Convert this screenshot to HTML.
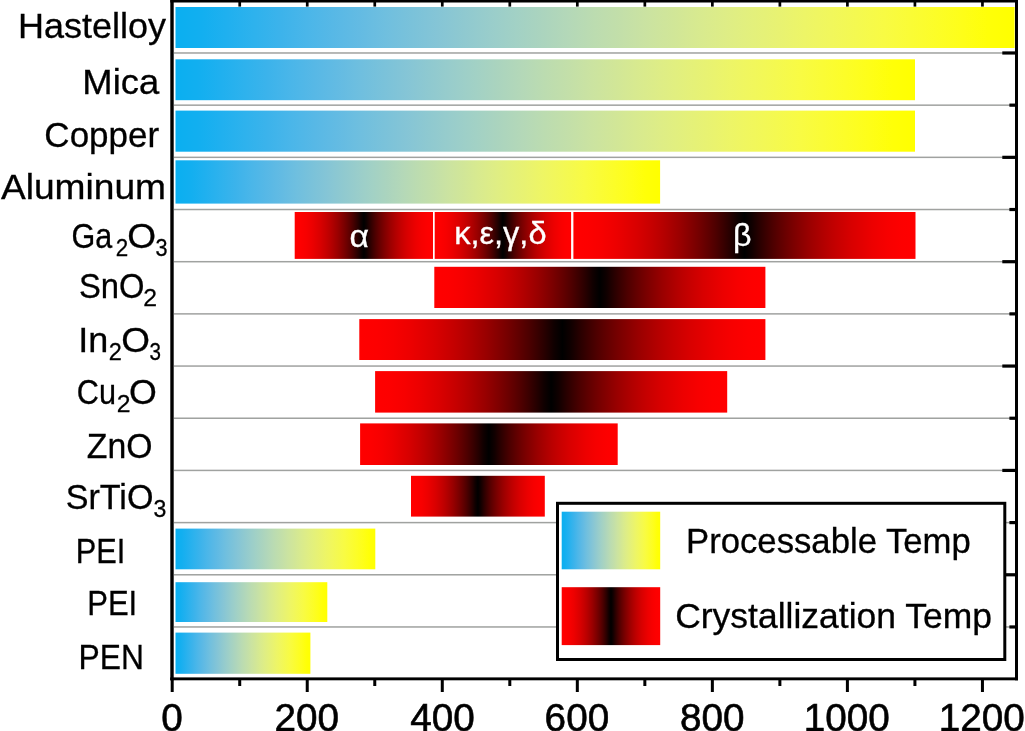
<!DOCTYPE html>
<html lang="en"><head><meta charset="utf-8"><title>Processable and Crystallization Temperature Chart</title>
<style>html,body{margin:0;padding:0;background:#fff}body{width:1025px;height:731px;overflow:hidden}svg{display:block}text{font-family:"Liberation Sans", "DejaVu Sans", sans-serif;white-space:pre}</style></head><body>
<svg width="1025" height="731" viewBox="0 0 1025 731">
<defs>
<linearGradient id="by" x1="0" y1="0" x2="1" y2="0"><stop offset="0.0000" stop-color="#0aaff0"/><stop offset="0.0312" stop-color="#12aff0"/><stop offset="0.0625" stop-color="#20b0ef"/><stop offset="0.0938" stop-color="#2eb2ed"/><stop offset="0.1250" stop-color="#3cb3eb"/><stop offset="0.1562" stop-color="#4ab6e9"/><stop offset="0.1875" stop-color="#57b8e6"/><stop offset="0.2188" stop-color="#63bbe3"/><stop offset="0.2500" stop-color="#6fbfdf"/><stop offset="0.2812" stop-color="#7ac2da"/><stop offset="0.3125" stop-color="#85c5d6"/><stop offset="0.3438" stop-color="#8fc9d0"/><stop offset="0.3750" stop-color="#99cdcb"/><stop offset="0.4062" stop-color="#a2d1c5"/><stop offset="0.4375" stop-color="#abd4be"/><stop offset="0.4688" stop-color="#b4d8b8"/><stop offset="0.5000" stop-color="#bcdcb0"/><stop offset="0.5312" stop-color="#c3dfa9"/><stop offset="0.5625" stop-color="#cbe3a1"/><stop offset="0.5938" stop-color="#d1e698"/><stop offset="0.6250" stop-color="#d8ea8f"/><stop offset="0.6562" stop-color="#deed86"/><stop offset="0.6875" stop-color="#e3f07c"/><stop offset="0.7188" stop-color="#e8f272"/><stop offset="0.7500" stop-color="#edf567"/><stop offset="0.7812" stop-color="#f1f75c"/><stop offset="0.8125" stop-color="#f4f950"/><stop offset="0.8438" stop-color="#f8fb44"/><stop offset="0.8750" stop-color="#fafc36"/><stop offset="0.9062" stop-color="#fcfd28"/><stop offset="0.9375" stop-color="#fefe19"/><stop offset="0.9688" stop-color="#ffff08"/><stop offset="1.0000" stop-color="#ffff00"/></linearGradient>
<linearGradient id="rk" x1="0" y1="0" x2="1" y2="0"><stop offset="0.0000" stop-color="#ff0000"/><stop offset="0.0208" stop-color="#fe0000"/><stop offset="0.0417" stop-color="#fd0000"/><stop offset="0.0625" stop-color="#fa0000"/><stop offset="0.0833" stop-color="#f70000"/><stop offset="0.1042" stop-color="#f20000"/><stop offset="0.1250" stop-color="#ed0000"/><stop offset="0.1458" stop-color="#e60000"/><stop offset="0.1667" stop-color="#df0000"/><stop offset="0.1875" stop-color="#d80000"/><stop offset="0.2083" stop-color="#cf0000"/><stop offset="0.2292" stop-color="#c60000"/><stop offset="0.2500" stop-color="#bc0000"/><stop offset="0.2708" stop-color="#b10000"/><stop offset="0.2917" stop-color="#a50000"/><stop offset="0.3125" stop-color="#990000"/><stop offset="0.3333" stop-color="#8b0000"/><stop offset="0.3542" stop-color="#7d0000"/><stop offset="0.3750" stop-color="#6e0000"/><stop offset="0.3958" stop-color="#5e0000"/><stop offset="0.4167" stop-color="#4d0000"/><stop offset="0.4375" stop-color="#3a0000"/><stop offset="0.4583" stop-color="#260000"/><stop offset="0.4792" stop-color="#100000"/><stop offset="0.5000" stop-color="#000000"/><stop offset="0.5208" stop-color="#100000"/><stop offset="0.5417" stop-color="#260000"/><stop offset="0.5625" stop-color="#3a0000"/><stop offset="0.5833" stop-color="#4d0000"/><stop offset="0.6042" stop-color="#5e0000"/><stop offset="0.6250" stop-color="#6e0000"/><stop offset="0.6458" stop-color="#7d0000"/><stop offset="0.6667" stop-color="#8b0000"/><stop offset="0.6875" stop-color="#990000"/><stop offset="0.7083" stop-color="#a50000"/><stop offset="0.7292" stop-color="#b10000"/><stop offset="0.7500" stop-color="#bc0000"/><stop offset="0.7708" stop-color="#c60000"/><stop offset="0.7917" stop-color="#cf0000"/><stop offset="0.8125" stop-color="#d80000"/><stop offset="0.8333" stop-color="#df0000"/><stop offset="0.8542" stop-color="#e60000"/><stop offset="0.8750" stop-color="#ed0000"/><stop offset="0.8958" stop-color="#f20000"/><stop offset="0.9167" stop-color="#f70000"/><stop offset="0.9375" stop-color="#fa0000"/><stop offset="0.9583" stop-color="#fd0000"/><stop offset="0.9792" stop-color="#fe0000"/><stop offset="1.0000" stop-color="#ff0000"/></linearGradient>
</defs>
<rect width="1025" height="731" fill="#fff"/>
<rect x="174" y="52.23" width="841" height="1.5" fill="#a0a2a0"/>
<rect x="174" y="104.41" width="841" height="1.5" fill="#a0a2a0"/>
<rect x="174" y="156.59" width="841" height="1.5" fill="#a0a2a0"/>
<rect x="174" y="208.77" width="841" height="1.5" fill="#a0a2a0"/>
<rect x="174" y="260.95" width="841" height="1.5" fill="#a0a2a0"/>
<rect x="174" y="313.13" width="841" height="1.5" fill="#a0a2a0"/>
<rect x="174" y="365.31" width="841" height="1.5" fill="#a0a2a0"/>
<rect x="174" y="417.49" width="841" height="1.5" fill="#a0a2a0"/>
<rect x="174" y="469.67" width="841" height="1.5" fill="#a0a2a0"/>
<rect x="174" y="521.85" width="841" height="1.5" fill="#a0a2a0"/>
<rect x="174" y="574.03" width="841" height="1.5" fill="#a0a2a0"/>
<rect x="174" y="626.21" width="841" height="1.5" fill="#a0a2a0"/>
<rect x="175.50" y="7.00" width="839.10" height="41.00" fill="url(#by)"/>
<rect x="175.50" y="59.30" width="739.50" height="40.90" fill="url(#by)"/>
<rect x="175.50" y="110.60" width="739.50" height="41.10" fill="url(#by)"/>
<rect x="175.50" y="160.30" width="484.60" height="43.30" fill="url(#by)"/>
<rect x="294.70" y="212.00" width="138.30" height="46.90" fill="url(#rk)"/>
<rect x="434.70" y="212.00" width="136.40" height="46.90" fill="url(#rk)"/>
<rect x="573.40" y="212.00" width="342.10" height="46.90" fill="url(#rk)"/>
<rect x="434.30" y="266.80" width="331.10" height="41.20" fill="url(#rk)"/>
<rect x="359.30" y="319.10" width="406.10" height="40.90" fill="url(#rk)"/>
<rect x="375.10" y="371.10" width="352.10" height="41.50" fill="url(#rk)"/>
<rect x="360.10" y="423.40" width="257.60" height="41.60" fill="url(#rk)"/>
<rect x="411.00" y="475.80" width="133.80" height="40.80" fill="url(#rk)"/>
<rect x="175.50" y="528.60" width="199.80" height="40.70" fill="url(#by)"/>
<rect x="175.50" y="582.20" width="151.80" height="39.80" fill="url(#by)"/>
<rect x="175.50" y="632.60" width="134.90" height="41.20" fill="url(#by)"/>
<g fill="#000">
<rect x="170.3" y="0" width="3.4" height="680.3"/>
<rect x="170.3" y="677.4" width="847.7" height="2.9"/>
<rect x="1015.0" y="0" width="3.0" height="680.3"/>
<rect x="170.3" y="0" width="847.7" height="2.5"/>
<rect x="170.70" y="678" width="3.0" height="14"/>
<rect x="238.37" y="0" width="2.7" height="6.6"/>
<rect x="238.22" y="678" width="3.0" height="8"/>
<rect x="305.89" y="0" width="2.7" height="6.6"/>
<rect x="305.74" y="678" width="3.0" height="14"/>
<rect x="373.41" y="0" width="2.7" height="6.6"/>
<rect x="373.26" y="678" width="3.0" height="8"/>
<rect x="440.93" y="0" width="2.7" height="6.6"/>
<rect x="440.78" y="678" width="3.0" height="14"/>
<rect x="508.45" y="0" width="2.7" height="6.6"/>
<rect x="508.30" y="678" width="3.0" height="8"/>
<rect x="575.97" y="0" width="2.7" height="6.6"/>
<rect x="575.82" y="678" width="3.0" height="14"/>
<rect x="643.49" y="0" width="2.7" height="6.6"/>
<rect x="643.34" y="678" width="3.0" height="8"/>
<rect x="711.01" y="0" width="2.7" height="6.6"/>
<rect x="710.86" y="678" width="3.0" height="14"/>
<rect x="778.53" y="0" width="2.7" height="6.6"/>
<rect x="778.38" y="678" width="3.0" height="8"/>
<rect x="846.05" y="0" width="2.7" height="6.6"/>
<rect x="845.90" y="678" width="3.0" height="14"/>
<rect x="913.57" y="0" width="2.7" height="6.6"/>
<rect x="913.42" y="678" width="3.0" height="8"/>
<rect x="981.09" y="0" width="2.7" height="6.6"/>
<rect x="980.94" y="678" width="3.0" height="14"/>
<rect x="1002.3" y="51.38" width="13" height="3.2"/>
<rect x="1009.4" y="103.56" width="6" height="3.2"/>
<rect x="1002.3" y="155.74" width="13" height="3.2"/>
<rect x="1009.4" y="207.92" width="6" height="3.2"/>
<rect x="1002.3" y="260.10" width="13" height="3.2"/>
<rect x="1009.4" y="312.28" width="6" height="3.2"/>
<rect x="1002.3" y="364.46" width="13" height="3.2"/>
<rect x="1009.4" y="416.64" width="6" height="3.2"/>
<rect x="1002.3" y="468.82" width="13" height="3.2"/>
<rect x="1009.4" y="521.00" width="6" height="3.2"/>
<rect x="1002.3" y="573.18" width="13" height="3.2"/>
<rect x="1009.4" y="625.36" width="6" height="3.2"/>
</g>
<rect x="557.5" y="503.3" width="447.3" height="156.2" fill="#fff" stroke="#000" stroke-width="3"/>
<rect x="561.7" y="511.7" width="98.5" height="57.6" fill="url(#by)"/>
<rect x="561.7" y="587.2" width="98.5" height="57.9" fill="url(#rk)"/>
<text transform="translate(17.89 38.30) scale(1.0173 1)" font-size="35.4" fill="#000" stroke="#000" stroke-width="0.3">Hastelloy</text>
<text transform="translate(82.35 93.90) scale(1.0291 1)" font-size="35.4" fill="#000" stroke="#000" stroke-width="0.3">Mica</text>
<text transform="translate(44.36 146.60) scale(0.9889 1)" font-size="35.4" fill="#000" stroke="#000" stroke-width="0.3">Copper</text>
<text transform="translate(0.90 199.20) scale(1.0498 1)" font-size="35.4" fill="#000" stroke="#000" stroke-width="0.3">Aluminum</text>
<text transform="translate(71.47 248.00) scale(0.8627 1)" font-size="35.4" fill="#000" stroke="#000" stroke-width="0.3">Ga</text>
<text transform="translate(115.75 256.30) scale(0.9106 1)" font-size="24.6" fill="#000" stroke="#000" stroke-width="0.3">2</text>
<text transform="translate(127.26 248.00) scale(1.0478 1)" font-size="35.4" fill="#000" stroke="#000" stroke-width="0.3">O</text>
<text transform="translate(155.62 256.30) scale(0.8812 1)" font-size="24.6" fill="#000" stroke="#000" stroke-width="0.3">3</text>
<text transform="translate(78.88 298.00) scale(0.9254 1)" font-size="35.4" fill="#000" stroke="#000" stroke-width="0.3">SnO</text>
<text transform="translate(143.24 306.30) scale(1.0060 1)" font-size="24.6" fill="#000" stroke="#000" stroke-width="0.3">2</text>
<text transform="translate(78.29 352.00) scale(1.0174 1)" font-size="35.4" fill="#000" stroke="#000" stroke-width="0.3">In</text>
<text transform="translate(108.70 360.40) scale(0.9539 1)" font-size="24.6" fill="#000" stroke="#000" stroke-width="0.3">2</text>
<text transform="translate(121.27 352.00) scale(1.0437 1)" font-size="35.4" fill="#000" stroke="#000" stroke-width="0.3">O</text>
<text transform="translate(149.55 360.40) scale(0.8392 1)" font-size="24.6" fill="#000" stroke="#000" stroke-width="0.3">3</text>
<text transform="translate(76.76 403.60) scale(0.8653 1)" font-size="35.4" fill="#000" stroke="#000" stroke-width="0.3">Cu</text>
<text transform="translate(116.84 411.80) scale(1.0060 1)" font-size="24.6" fill="#000" stroke="#000" stroke-width="0.3">2</text>
<text transform="translate(129.12 403.60) scale(1.0108 1)" font-size="35.4" fill="#000" stroke="#000" stroke-width="0.3">O</text>
<text transform="translate(86.74 457.50) scale(0.9547 1)" font-size="35.4" fill="#000" stroke="#000" stroke-width="0.3">ZnO</text>
<text transform="translate(65.63 508.90) scale(0.9642 1)" font-size="35.4" fill="#000" stroke="#000" stroke-width="0.3">SrTiO</text>
<text transform="translate(153.48 517.30) scale(0.9399 1)" font-size="24.6" fill="#000" stroke="#000" stroke-width="0.3">3</text>
<text transform="translate(75.80 563.00) scale(0.8690 1)" font-size="35.4" fill="#000" stroke="#000" stroke-width="0.3">PEI</text>
<text transform="translate(87.18 614.80) scale(0.8768 1)" font-size="35.4" fill="#000" stroke="#000" stroke-width="0.3">PEI</text>
<text transform="translate(78.62 669.20) scale(0.8982 1)" font-size="35.4" fill="#000" stroke="#000" stroke-width="0.3">PEN</text>
<text transform="translate(685.99 553.00) scale(0.9805 1)" font-size="35.4" fill="#000" stroke="#000" stroke-width="0.3">Processable Temp</text>
<text transform="translate(675.14 627.70) scale(1.0027 1)" font-size="35.4" fill="#000" stroke="#000" stroke-width="0.3">Crystallization Temp</text>
<text transform="translate(349.55 246.60) scale(1.1047 1)" font-size="30.5" fill="#fff" stroke="#fff" stroke-width="0.3">α</text>
<text transform="translate(454.16 244.00) scale(1.0679 1)" font-size="30.5" fill="#fff" stroke="#fff" stroke-width="0.3">κ,ε,γ,δ</text>
<text transform="translate(732.99 246.00) scale(1.0559 1)" font-size="30.5" fill="#fff" stroke="#fff" stroke-width="0.3">β</text>
<text x="161.32" y="730.8" font-size="38.7" fill="#000" stroke="#000" stroke-width="0.6">0</text>
<text x="274.53" y="730.8" font-size="38.7" fill="#000" stroke="#000" stroke-width="0.6">200</text>
<text x="410.17" y="730.8" font-size="38.7" fill="#000" stroke="#000" stroke-width="0.6">400</text>
<text x="544.61" y="730.8" font-size="38.7" fill="#000" stroke="#000" stroke-width="0.6">600</text>
<text x="679.95" y="730.8" font-size="38.7" fill="#000" stroke="#000" stroke-width="0.6">800</text>
<text x="803.63" y="730.8" font-size="38.7" fill="#000" stroke="#000" stroke-width="0.6">1000</text>
<text x="938.67" y="730.8" font-size="38.7" fill="#000" stroke="#000" stroke-width="0.6">1200</text>
</svg></body></html>
